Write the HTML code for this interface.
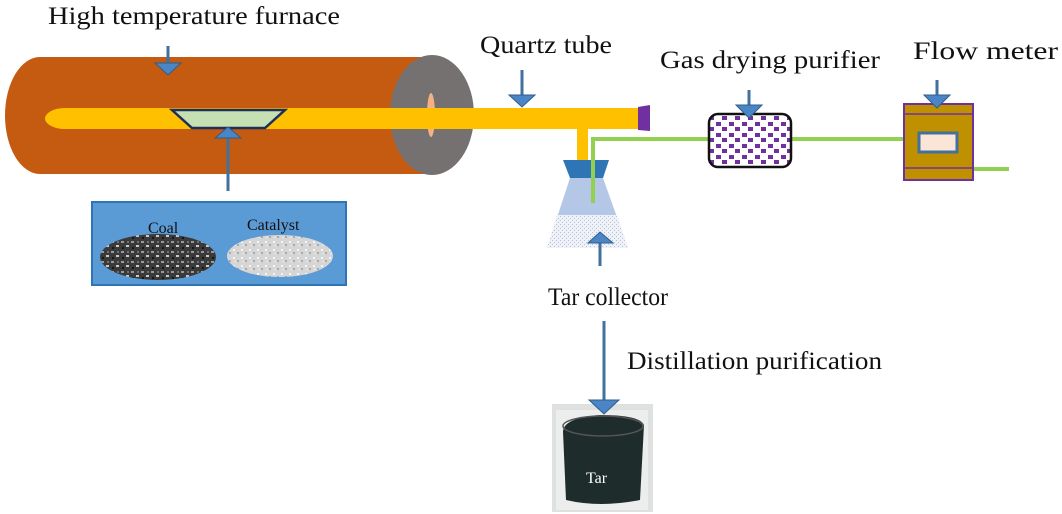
<!DOCTYPE html>
<html><head><meta charset="utf-8"><style>
html,body{margin:0;padding:0;background:#fff}
svg{display:block}
text{font-family:"Liberation Serif",serif;fill:#111}
</style></head><body>
<svg width="1062" height="514" viewBox="0 0 1062 514" xmlns="http://www.w3.org/2000/svg">
<defs>
<pattern id="dots" width="4" height="4" patternUnits="userSpaceOnUse"><rect width="4" height="4" fill="#eef2f8"/><rect width="1" height="1" fill="#b8c4d6"/><rect x="2" y="2" width="1" height="1" fill="#b8c4d6"/></pattern>
<pattern id="coal" width="10" height="10" patternUnits="userSpaceOnUse"><rect width="10" height="10" fill="#3a3a3a"/><rect x="1" y="1" width="3" height="2" fill="#9a9a9a"/><rect x="6" y="5" width="3" height="2" fill="#c8c8c8"/><rect x="2" y="7" width="2" height="2" fill="#151515"/><rect x="7" y="1" width="2" height="2" fill="#707070"/></pattern>
<pattern id="cat" width="8" height="8" patternUnits="userSpaceOnUse"><rect width="8" height="8" fill="#d6d6d6"/><rect x="1" y="1" width="2" height="2" fill="#f4f4f4"/><rect x="5" y="4" width="2" height="2" fill="#a8a8a8"/><rect x="2" y="5" width="2" height="1" fill="#eaeaea"/></pattern>
<pattern id="sq" width="13" height="11" patternUnits="userSpaceOnUse"><rect width="13" height="11" fill="#fff"/><rect x="1" y="1" width="5" height="4" fill="#7030a0"/><rect x="7" y="6" width="5" height="4" fill="#7030a0"/></pattern>
</defs>

<path d="M40,57 L432,57 L432,174 L40,174 A35,58.5 0 0 1 40,57 Z" fill="#c55a11"/>
<ellipse cx="432" cy="115" rx="42" ry="60" fill="#767171"/>
<ellipse cx="431" cy="115" rx="4" ry="22" fill="#f4b183"/>
<path d="M65,108 L645,108 L645,129 L65,129 A20,10.5 0 0 1 65,108 Z" fill="#ffc000"/>
<rect x="432" y="108" width="213" height="21" fill="#ffc000"/>
<path d="M638,107 L650,105 L650,131 L638,130 Z" fill="#7030a0"/>
<rect x="577" y="128" width="11" height="34" fill="#ffc000"/>
<polygon points="172,110 285,110 265,128 192,128" fill="#c6e0b4" stroke="#1f2f5a" stroke-width="2.5"/>

<rect x="92" y="202" width="254" height="83" fill="#5b9bd5" stroke="#2e75b6" stroke-width="2"/>
<ellipse cx="158" cy="257" rx="58" ry="23" fill="url(#coal)"/>
<ellipse cx="280" cy="256" rx="53" ry="21" fill="url(#cat)"/>
<text x="148" y="233" font-size="16">Coal</text>
<text x="247" y="230" font-size="16">Catalyst</text>

<polygon points="570,178 603,178 628,248 547,248" fill="#b4c7e7"/>
<polygon points="557,215 617,215 628,248 547,248" fill="url(#dots)"/>
<polygon points="563,160 609,160 603,178 570,178" fill="#2e75b6"/>
<polyline points="593,203 593,139 712,139" fill="none" stroke="#92d050" stroke-width="4"/>
<line x1="790" y1="139" x2="904" y2="139" stroke="#92d050" stroke-width="4"/>
<line x1="972" y1="169" x2="1009" y2="169" stroke="#92d050" stroke-width="4"/>
<rect x="709" y="114" width="82" height="53" rx="9" fill="url(#sq)" stroke="#111" stroke-width="2.5"/>
<rect x="904" y="104" width="69" height="76" fill="#bf9000" stroke="#7030a0" stroke-width="2"/>
<line x1="904" y1="114" x2="973" y2="114" stroke="#7030a0" stroke-width="1.5"/>
<line x1="904" y1="168" x2="973" y2="168" stroke="#7030a0" stroke-width="1.5"/>
<rect x="919" y="133" width="38" height="19" fill="#fbe5d6" stroke="#41719c" stroke-width="3"/>

<rect x="552" y="404" width="101" height="108" fill="#dfe1e1"/>
<rect x="556" y="410" width="92" height="100" fill="#eceeee"/>
<path d="M563,432 Q563,418 600,415 Q640,415 644,425 L640,500 Q600,508 566,500 Z" fill="#1e2d2b"/>
<ellipse cx="603" cy="426" rx="40" ry="10" fill="none" stroke="#555" stroke-width="1.5"/>
<text x="586" y="483" font-size="16" style="fill:#fff">Tar</text>

<g stroke="#41719c" stroke-width="3" fill="#41719c">
<line x1="168" y1="46" x2="168" y2="64"/>
<line x1="228" y1="191" x2="228" y2="134"/>
<line x1="522" y1="70" x2="522" y2="96"/>
<line x1="749" y1="90" x2="749" y2="106"/>
<line x1="937" y1="80" x2="937" y2="96"/>
<line x1="600" y1="266" x2="600" y2="240"/>
<line x1="604" y1="321" x2="604" y2="402"/>
</g>
<g fill="#4a86c5" stroke="#2e5d8c" stroke-width="1">
<polygon points="155,63 181,63 168,75"/>
<polygon points="215,138 241,138 228,127"/>
<polygon points="509,95 535,95 522,107"/>
<polygon points="736,105 762,105 749,118"/>
<polygon points="924,95 950,95 937,108"/>
<polygon points="588,243 613,243 600,232"/>
<polygon points="589,400 619,400 604,414"/>
</g>

<text x="48" y="24" font-size="25" textLength="292" lengthAdjust="spacingAndGlyphs">High temperature furnace</text>
<text x="480" y="53" font-size="25" textLength="132" lengthAdjust="spacingAndGlyphs">Quartz tube</text>
<text x="660" y="68" font-size="25" textLength="220" lengthAdjust="spacingAndGlyphs">Gas drying purifier</text>
<text x="913" y="59" font-size="25" textLength="145" lengthAdjust="spacingAndGlyphs">Flow meter</text>
<text x="548" y="305" font-size="25" textLength="120" lengthAdjust="spacingAndGlyphs">Tar collector</text>
<text x="627" y="369" font-size="25" textLength="255" lengthAdjust="spacingAndGlyphs">Distillation purification</text>
</svg>
</body></html>
